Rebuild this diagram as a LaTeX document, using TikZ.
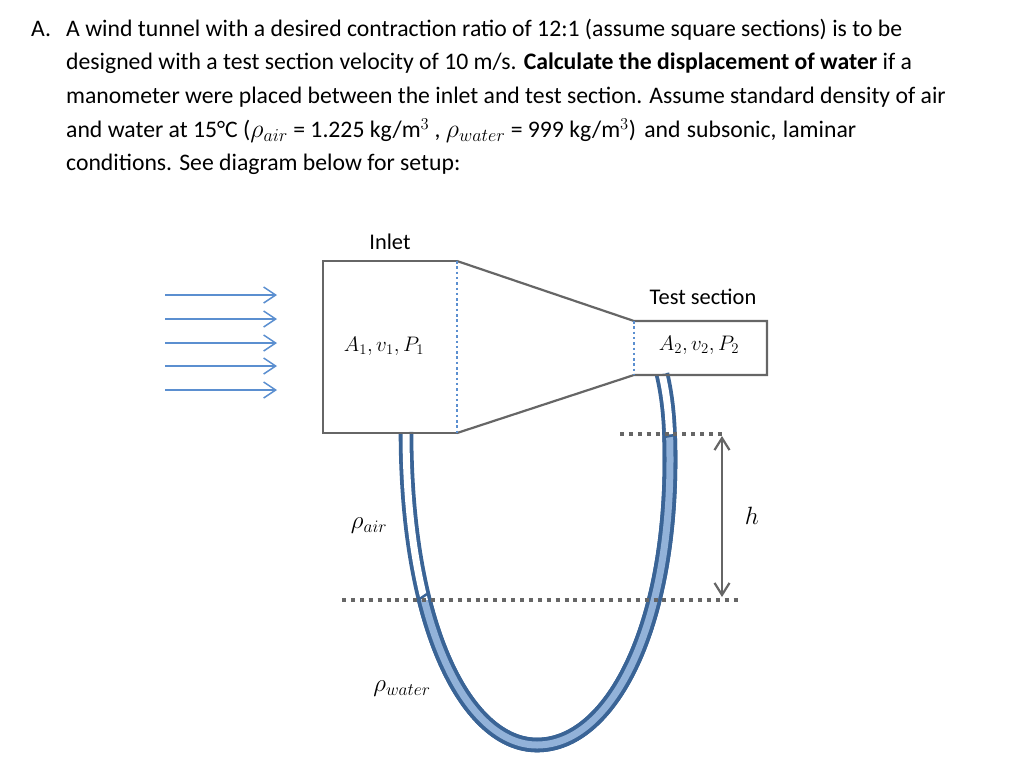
\documentclass[tikz,border=0pt]{standalone}
\usepackage{fix-cm}
\usepackage{fontspec}
\setmainfont{Carlito}
\usetikzlibrary{arrows.meta}
\definecolor{ductgray}{HTML}{666666}
\definecolor{flowblue}{HTML}{5B8FD0}
\definecolor{tubeblue}{HTML}{3A6496}
\definecolor{waterblue}{HTML}{92B2D9}
\newcommand{\inlinerho}[1]{{\fontsize{26}{28}\selectfont$\rho_{#1}$}}
\tikzset{
    line/.style={font=\fontsize{23.7}{28}\selectfont, anchor=base west, inner sep=0pt},
    label/.style={font=\fontsize{22.4}{26}\selectfont, inner sep=0pt},
    quantity/.style={font=\fontsize{21}{25}\selectfont, inner sep=0pt},
    symbol/.style={font=\fontsize{25}{30}\selectfont, inner sep=0pt},
    duct/.style={draw=ductgray, line width=2.2pt},
    section/.style={draw=flowblue, line width=2.2pt, dash pattern=on 2.5pt off 2.8pt},
    level/.style={draw=ductgray, line width=3.8pt, dash pattern=on 4pt off 4.9pt},
    flow/.style={draw=flowblue, line width=1.5pt, -{Straight Barb[length=12pt,width=16pt]}},
    tube/.style={draw=tubeblue, line width=3.8pt, double distance=7pt},
}
\begin{document}
\begin{tikzpicture}[x=1pt,y=-1pt]
    \useasboundingbox (0,0) rectangle (1010,772);
    % question text
    \node[line] (mark) at (31,36) {A.};
    \node[line] (l1) at (66,36) {A wind tunnel with a desired contraction ratio of 12:1 (assume square sections) is to be};
    \node[line] (l2) at (66,69.7) {designed with a test section velocity of 10 m/s. \textbf{Calculate the displacement of water} if a};
    \node[line] (l3) at (66,103.7) {manometer were placed between the inlet and test section. Assume standard density of air};
    \node[line] (l4) at (66,137.7) {and water at 15°C (\inlinerho{air} = 1.225 kg/m$^3$ , \inlinerho{water} = 999 kg/m$^3$)\hspace{3pt} and\hspace{1pt} subsonic,\hspace{1pt} laminar};
    \node[line] (l5) at (66,170.5) {conditions. See diagram below for setup:};
    % duct corners
    \coordinate (a) at (323,261);
    \coordinate (b) at (457,261);
    \coordinate (c) at (634,321);
    \coordinate (d) at (767,321);
    \coordinate (e) at (767,375);
    \coordinate (f) at (634,375);
    \coordinate (g) at (457,433);
    \coordinate (h) at (323,433);
    % manometer tube
    \draw[tube, double=white] (406,432) .. controls (406,630) and (468,745) .. (537,745)
        .. controls (610,745) and (670,630) .. (670,460)
        .. controls (670,425) and (668,400) .. (662,374);
    \begin{scope}
        \clip (395,600) -- (480,600) -- (480,434) -- (690,434) -- (690,760) -- (395,760) -- cycle;
        \draw[tube, double=waterblue] (406,432) .. controls (406,630) and (468,745) .. (537,745)
            .. controls (610,745) and (670,630) .. (670,460)
            .. controls (670,425) and (668,400) .. (662,374);
    \end{scope}
    \coordinate (wl1) at (418,600);
    \coordinate (wl2) at (427,594);
    \coordinate (wr1) at (664,437);
    \coordinate (wr2) at (675,435);
    \draw[draw=tubeblue, line width=2.5pt] (wl1) -- (wl2);
    \draw[draw=tubeblue, line width=2.5pt] (wr1) -- (wr2);
    % duct outline
    \draw[duct] (b) -- (a) -- (h) -- (g);
    \draw[duct] (b) -- (c) -- (d) -- (e) -- (f) -- (g);
    \draw[section] (b) -- (g);
    \draw[section] (c) -- (f);
    % incoming flow
    \foreach \y [count=\i] in {295,319,343,366,390} {
        \coordinate (s\i) at (165,\y);
        \coordinate (t\i) at (277,\y);
        \draw[flow] (s\i) -- (t\i);
    }
    % water levels
    \coordinate (u1) at (620,434);
    \coordinate (u2) at (722,434);
    \coordinate (v1) at (342,600);
    \coordinate (v2) at (738,600);
    \coordinate (h1) at (722,436);
    \coordinate (h2) at (722,597);
    \draw[level] (u1) -- (u2);
    \draw[level] (v1) -- (v2);
    \draw[draw=ductgray, line width=2.2pt, {Straight Barb[length=12pt,width=15pt]}-{Straight Barb[length=12pt,width=15pt]}] (h1) -- (h2);
    % labels
    \node[label] (inlet) at (390,241.7) {Inlet};
    \node[label] (test) at (703,296.7) {Test section};
    \node[quantity] (in) at (384,346) {$A_1,v_1,P_1$};
    \node[quantity] (out) at (699,345) {$A_2,v_2,P_2$};
    \node[symbol] (rhoair) at (369,526) {$\rho_{air}$};
    \node[symbol] (rhowater) at (402,689) {$\rho_{water}$};
    \node[symbol] (height) at (752,516) {$h$};
\end{tikzpicture}
\end{document}
